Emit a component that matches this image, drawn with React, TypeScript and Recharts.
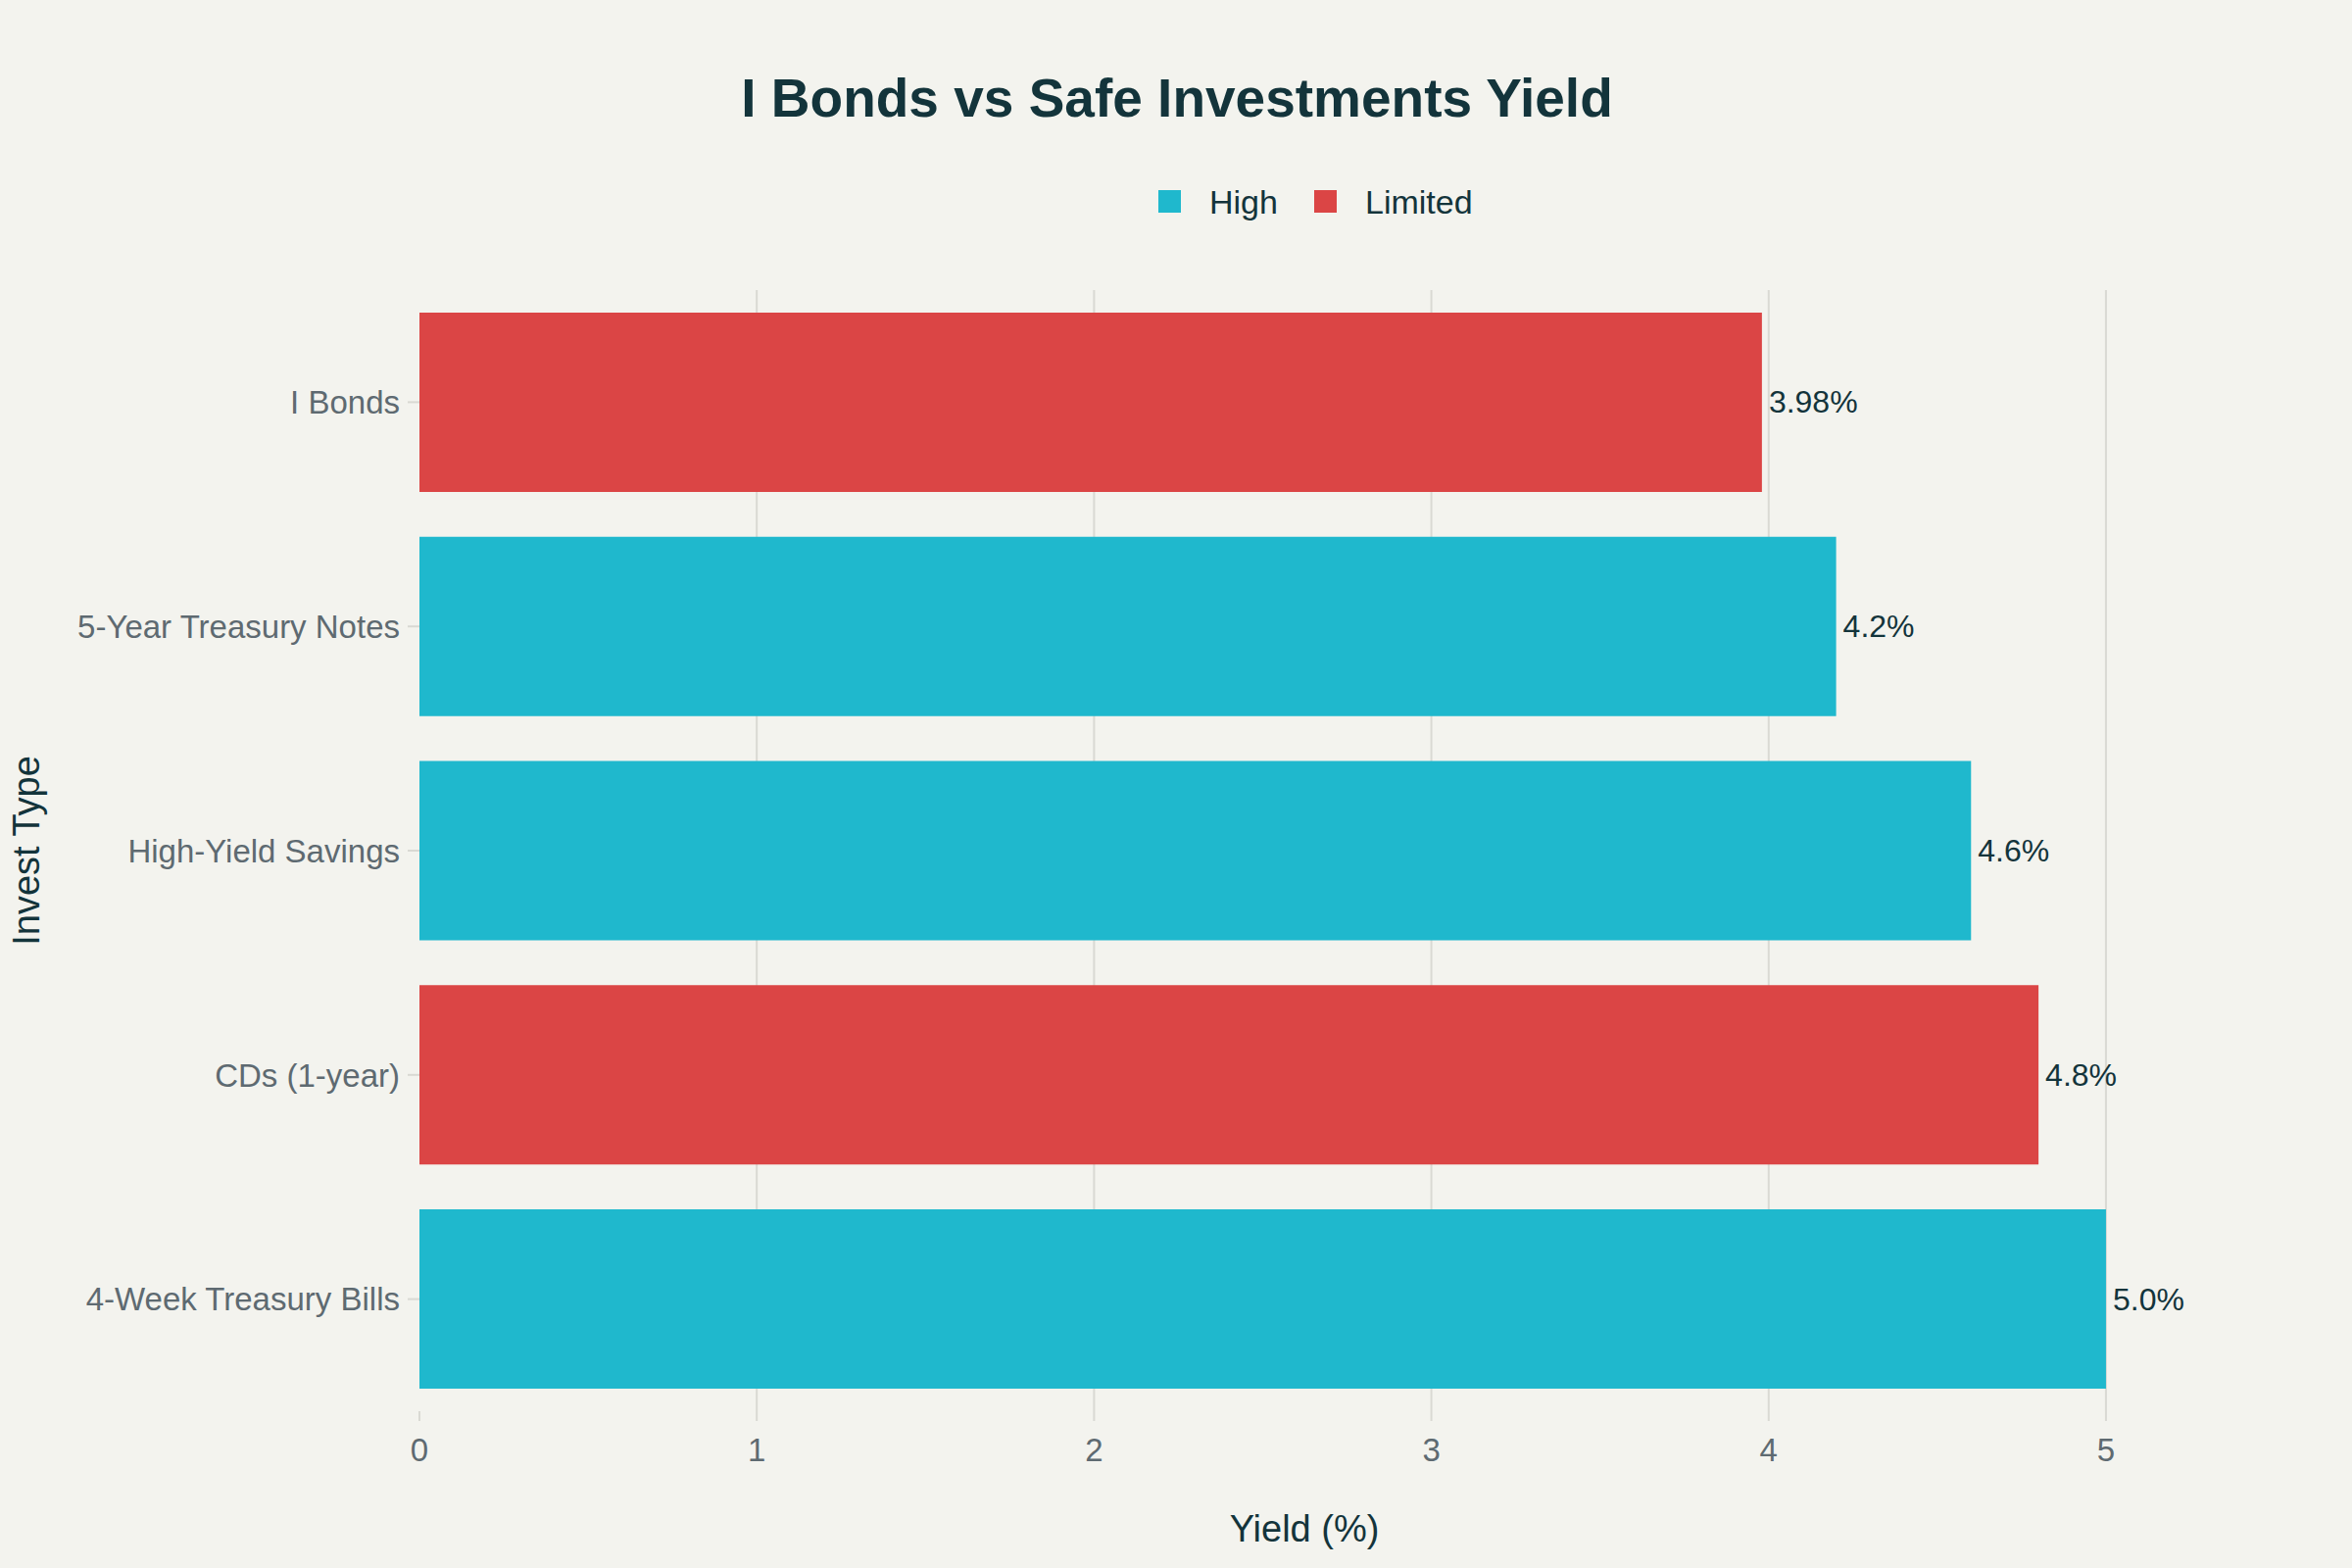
import React from 'react';
import { BarChart, Bar, XAxis, YAxis, CartesianGrid, Cell, LabelList } from 'recharts';

const categories = ['I Bonds', '5-Year Treasury Notes', 'High-Yield Savings', 'CDs (1-year)', '4-Week Treasury Bills'];
const yields = [3.98, 4.2, 4.6, 4.8, 5.0];
const valueLabels = ['3.98%', '4.2%', '4.6%', '4.8%', '5.0%'];
const access = ['Limited', 'High', 'High', 'Limited', 'High'];
const legendItems = ['High', 'Limited'];
const xTicks = [0, 1, 2, 3, 4, 5];
const gridValues = [1, 2, 3, 4, 5];

const COLORS: Record<string, string> = { High: '#1FB8CD', Limited: '#DB4545' };
const BG = '#F3F3EE';
const DARK = '#13343B';
const GREY = '#5E6A71';
const GRID = '#D9D9D3';
const FONT = '"Liberation Sans", Arial, sans-serif';

const data = categories.map((c, i) => ({ name: c, value: yields[i], label: valueLabels[i], access: access[i] }));

const renderValueLabel = (props: any) => {
  const { x, y, width, height, index } = props;
  if (index == null) return null;
  return (
    <text
      x={Number(x) + Number(width) + 7}
      y={Number(y) + Number(height) / 2}
      dominantBaseline="central"
      fill={DARK}
      fontSize={32}
      fontFamily={FONT}
    >
      {valueLabels[index]}
    </text>
  );
};

export default function App() {
  return (
    <div style={{ position: 'absolute', left: 0, top: 0, width: 2400, height: 1600, background: BG, fontFamily: FONT }}>
      <BarChart
        width={2400}
        height={1600}
        data={data}
        layout="vertical"
        margin={{ top: 296, right: 165, bottom: 0, left: 0 }}
        barCategoryGap="10%"
      >
        <CartesianGrid horizontal={false} vertical={true} verticalValues={gridValues} stroke={GRID} strokeWidth={2} />
        <XAxis
          type="number"
          dataKey="value"
          domain={[0, 5.25]}
          ticks={xTicks}
          height={160}
          axisLine={false}
          tickLine={{ stroke: GRID, strokeWidth: 2 }}
          tickSize={10}
          tickMargin={18}
          tick={{ fill: GREY, fontSize: 33, fontFamily: FONT }}
        />
        <YAxis
          type="category"
          dataKey="name"
          width={428}
          axisLine={false}
          tickLine={{ stroke: GRID, strokeWidth: 2 }}
          tickSize={12}
          tickMargin={8}
          tick={{ fill: GREY, fontSize: 33, fontFamily: FONT }}
        />
        <Bar dataKey="value" isAnimationActive={false}>
          {data.map((d, i) => (
            <Cell key={i} fill={COLORS[d.access]} />
          ))}
          <LabelList dataKey="label" content={renderValueLabel} />
        </Bar>
      </BarChart>
      <svg width={2400} height={1600} style={{ position: 'absolute', left: 0, top: 0, pointerEvents: 'none' }}>
        <text x={1201} y={100} textAnchor="middle" dominantBaseline="central" fill={DARK} fontSize={55} fontWeight="bold" fontFamily={FONT}>
          I Bonds vs Safe Investments Yield
        </text>
        <rect x={1182} y={194} width={23} height={23} fill={COLORS[legendItems[0]]} />
        <text x={1234} y={206} dominantBaseline="central" fill={DARK} fontSize={34} fontFamily={FONT}>{legendItems[0]}</text>
        <rect x={1341} y={194} width={23} height={23} fill={COLORS[legendItems[1]]} />
        <text x={1393} y={206} dominantBaseline="central" fill={DARK} fontSize={34} fontFamily={FONT}>{legendItems[1]}</text>
        <text x={1331} y={1560} textAnchor="middle" dominantBaseline="central" fill={DARK} fontSize={38} fontFamily={FONT}>Yield (%)</text>
        <text x={0} y={0} transform="translate(27,868) rotate(-90)" textAnchor="middle" dominantBaseline="central" fill={DARK} fontSize={38} fontFamily={FONT}>Invest Type</text>
      </svg>
    </div>
  );
}
